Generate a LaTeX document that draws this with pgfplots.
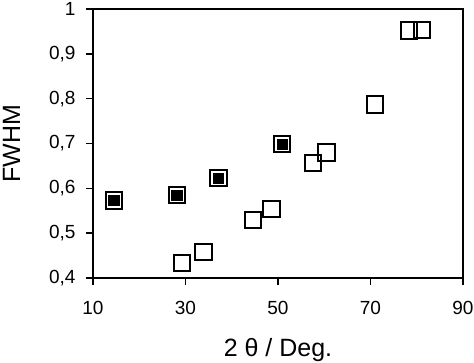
\documentclass[border=0pt]{standalone}
\usepackage{pgfplots}
\pgfplotsset{compat=1.18}
\usepackage{fontspec}
\setmainfont{Liberation Sans}
\newcommand{\tickfont}{\fontsize{19}{22}\selectfont}
\newcommand{\labfont}{\fontsize{25}{28}\selectfont}
\begin{document}
\begin{tikzpicture}
\useasboundingbox (0,0) rectangle (474pt,363pt);
\begin{axis}[
  at={(93pt,85pt)}, anchor=south west,
  scale only axis, width=370pt, height=269pt,
  xmin=10, xmax=90, ymin=0.4, ymax=1,
  xtick={10,30,50,70,90},
  ytick={0.4,0.5,0.6,0.7,0.8,0.9,1},
  tick pos=left, tick align=outside,
  major tick length=7pt,
  axis line style={line width=1.5pt},
  every tick/.style={line width=1.5pt, black},
  xticklabel style={font=\tickfont, yshift=-13pt},
  yticklabel style={font=\tickfont, xshift=-7pt},
  xlabel style={font=\labfont, yshift=-17pt},
  ylabel style={font=\labfont, yshift=22pt},
  xlabel={2 θ / Deg.}, ylabel={FWHM},
  /pgf/number format/assume math mode=true,
  /pgf/number format/use comma,
  /pgf/number format/fixed,
]
\addplot[only marks, mark=square, mark size=8.2pt, mark options={line width=2pt, black}]
  coordinates {(29.2,0.434) (33.9,0.458) (44.6,0.530) (48.6,0.554) (57.6,0.656) (60.5,0.680) (71.0,0.787) (78.3,0.952) (81.1,0.953)};
\addplot[only marks, mark=square, mark size=8.2pt, mark options={line width=2pt, black}]
  coordinates {(14.5,0.573) (28.1,0.585) (37.1,0.623) (50.9,0.699)};
\addplot[only marks, mark=square*, mark size=5.2pt, mark options={draw=none, fill=black}]
  coordinates {(14.5,0.573) (28.1,0.585) (37.1,0.623) (50.9,0.699)};
\end{axis}
\end{tikzpicture}
\end{document}
